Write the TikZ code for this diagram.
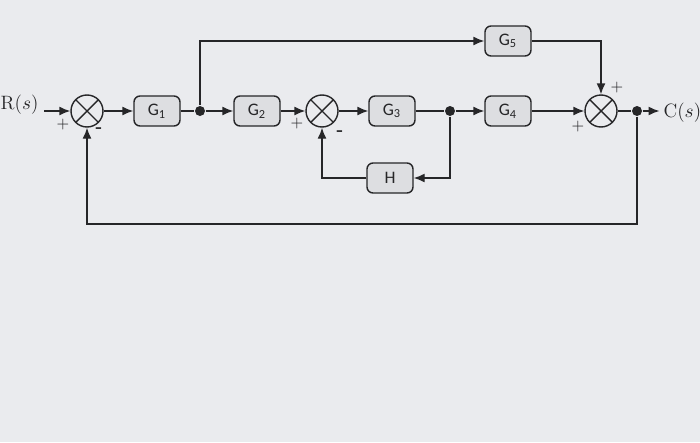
\documentclass[tikz,border=0pt]{standalone}
\usepackage{fontspec}
\setsansfont{Carlito}
\usetikzlibrary{arrows.meta}
\definecolor{paper}{RGB}{234,235,238}
\definecolor{boxfill}{RGB}{221,222,225}
\definecolor{ink}{RGB}{38,38,40}

\begin{document}
\begin{tikzpicture}[x=0.2mm, y=-0.2mm, line width=0.8pt, color=ink,
  block/.style={draw=ink, fill=boxfill, rounded corners=1.2mm, minimum width=9.2mm, minimum height=6mm, font=\sffamily},
  sumnode/.style={draw=ink, fill=paper, circle, minimum size=6.4mm, inner sep=0pt,
    path picture={\draw[ink] (path picture bounding box.north west) -- (path picture bounding box.south east)
      (path picture bounding box.south west) -- (path picture bounding box.north east);}},
  branchdot/.style={circle, fill=ink, inner sep=0pt, minimum size=2mm},
  sign/.style={font=\small, text=ink, inner sep=0pt},
  sigtext/.style={anchor=west, inner sep=0pt, font=\fontsize{11}{13}\selectfont},
  sig/.style={-{Latex[length=2.2mm,width=1.8mm]}}]
		%%%%% START %%%%%
		\fill[paper] (0,0) rectangle (700,442);
		\useasboundingbox (0,0) rectangle (700,442);
		
		\node[sigtext] (r) at (0,105) {R($s$)};
		\node[sumnode] (s1) at (87,111) {};
		\node[block] (g1) at (157,111) {G\textsubscript{1}};
		\node[branchdot] (d1) at (200,111) {};
		\node[block] (g2) at (257,111) {G\textsubscript{2}};
		\node[sumnode] (s2) at (322,111) {};
		\node[block] (g3) at (392,111) {G\textsubscript{3}};
		\node[branchdot] (d2) at (450,111) {};
		\node[block] (g4) at (508,111) {G\textsubscript{4}};
		\node[block] (g5) at (508,41) {G\textsubscript{5}};
		\node[block] (h) at (390,178) {H};
		\node[sumnode] (s3) at (601,111) {};
		\node[branchdot] (d3) at (637,111) {};
		\node[sigtext] (c) at (663,113) {C($s$)};
		\coordinate (fb) at (637,224);
		
		\draw[sig] (44,111) -- (s1);
		\draw[sig] (s1) -- (g1);
		\draw (g1) -- (d1);
		\draw[sig] (d1) -- (g2);
		\draw[sig] (g2) -- (s2);
		\draw[sig] (s2) -- (g3);
		\draw (g3) -- (d2);
		\draw[sig] (d2) -- (g4);
		\draw[sig] (g4) -- (s3);
		\draw (s3) -- (d3);
		\draw[sig, shorten >=2pt] (d3) -- (c.west |- d3);
		
		\draw[sig] (d1) |- (g5);
		\draw[sig] (g5) -| (s3);
		\draw[sig] (d2) |- (h);
		\draw[sig] (h) -| (s2);
		\draw[sig] (d3) -- (fb) -| (s1);
		
		\node[sign] at (63,125) {+};
		\node[sign, font=\bfseries] at (99,130) {-};
		\node[sign] at (297,124) {+};
		\node[sign, font=\bfseries] at (340,133) {-};
		\node[sign] at (617,88) {+};
		\node[sign] at (578,127) {+};
		%%%%% END %%%%%
\end{tikzpicture}
\end{document}
